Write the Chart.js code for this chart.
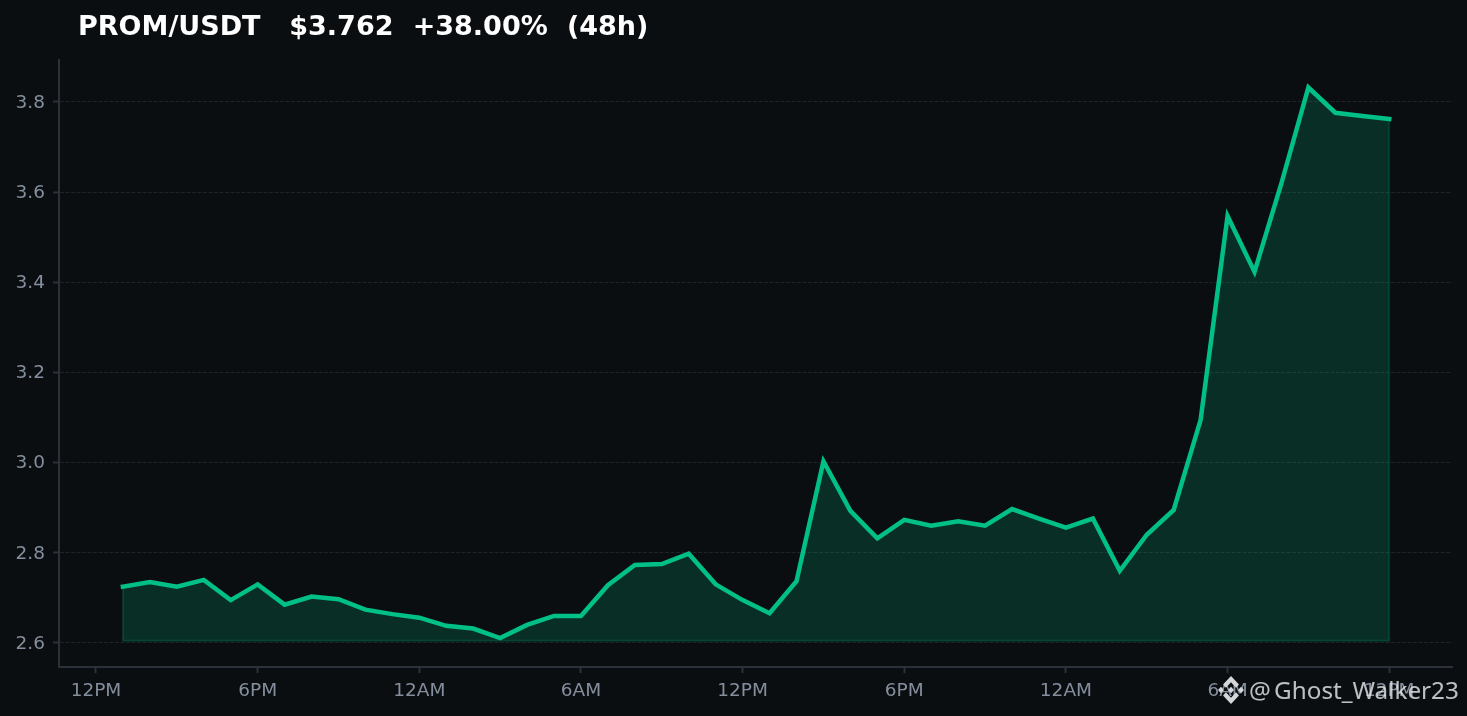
<!DOCTYPE html>
<html>
<head>
<meta charset="utf-8">
<script src="https://cdn.jsdelivr.net/npm/chart.js@4"></script>
<style>
html,body{margin:0;padding:0;background:#0b0e11;width:1467px;height:716px;overflow:hidden}
#wrap{position:relative;width:1467px;height:716px}
#title{position:absolute;left:78px;top:10px;font:bold 27px "DejaVu Sans";color:#fff;white-space:pre;line-height:32px;word-spacing:.2px}
#mark{position:absolute;left:1218px;top:676px;height:28px;display:flex;align-items:center;color:rgba(234,236,239,.8);font:24.25px "Noto Sans";white-space:pre}
#mark svg{width:26px;height:28px;margin-right:5px}
#mark span{position:relative;top:-1px;word-spacing:-3px}
canvas{display:block}
</style>
</head>
<body>
<div id="wrap">
<canvas id="c" width="1467" height="716"></canvas>
<div id="title">PROM/USDT   $3.762  +38.00%  (48h)</div>
<div id="mark"><svg viewBox="0 0 126.6 126.6" preserveAspectRatio="none"><g fill="#d4d6d9"><path d="M38.73 53.2L63.3 28.63l24.58 24.58 14.3-14.29L63.3 0 24.43 38.9z"/><path d="M0 63.31l14.3-14.29 14.3 14.3-14.3 14.29z"/><path d="M38.73 73.41L63.3 97.99l24.58-24.58 14.3 14.29L63.3 126.6 24.43 87.73z"/><path d="M97.99 63.31l14.3-14.3 14.3 14.3-14.3 14.3z"/><path d="M77.83 63.3L63.3 48.78 48.83 63.27l14.47 14.5z"/></g></svg><span>@ Ghost_Walker23</span></div>
</div>
<script>
const hours = [1,2,3,4,5,6,7,8,9,10,11,12,13,14,15,16,17,18,19,20,21,22,23,24,25,26,27,28,29,30,31,32,33,34,35,36,37,38,39,40,41,42,43,44,45,46,47,48];
const prices = [2.725,2.735,2.725,2.74,2.695,2.73,2.685,2.703,2.697,2.674,2.664,2.656,2.638,2.632,2.611,2.64,2.66,2.66,2.728,2.773,2.775,2.798,2.73,2.695,2.666,2.737,3.003,2.893,2.832,2.873,2.86,2.87,2.86,2.897,2.876,2.856,2.876,2.76,2.84,2.895,3.095,3.547,3.423,3.62,3.832,3.776,3.769,3.762];
const xTickHours = [0,6,12,18,24,30,36,42,48];
const xTickLabels = ['12PM','6PM','12AM','6AM','12PM','6PM','12AM','6AM','12PM'];
const yTicks = [2.6,2.8,3.0,3.2,3.4,3.6,3.8];
const baseValue = 2.605;

const GREEN = '#00c087', BG = '#0b0e11', SPINE = '#2b3139', GRID = '#1e2329', TICK = '#848e9c';
const points = hours.map((h,i)=>({x:h,y:prices[i]}));
const first = points[0], last = points[points.length-1];
const edge = [first,{x:first.x,y:baseValue},{x:last.x,y:baseValue},last];

Chart.defaults.font.family = '"DejaVu Sans"';
new Chart(document.getElementById('c'),{
  type:'line',
  data:{datasets:[
    {data:edge,borderColor:'rgba(0,192,135,.2)',borderWidth:2,pointRadius:0,fill:false,tension:0,order:2},
    {data:points,borderColor:GREEN,borderWidth:4.5,pointRadius:0,tension:0,borderJoinStyle:'miter',borderCapStyle:'square',
     fill:{target:{value:baseValue}},backgroundColor:'rgba(0,192,135,.18)',order:1}
  ]},
  plugins:[{id:'bg',beforeDraw(ch){const c=ch.ctx;c.save();c.fillStyle=BG;c.fillRect(0,0,ch.width,ch.height);c.restore();}}],
  options:{
    responsive:false,animation:false,devicePixelRatio:1,
    layout:{padding:{top:60,right:15,left:0,bottom:0}},
    plugins:{legend:{display:false},tooltip:{enabled:false}},
    scales:{
      x:{type:'linear',min:-1.373,max:50.33,
        afterFit(s){s.height=49;},
        afterBuildTicks(s){s.ticks=xTickHours.map(v=>({value:v}));},
        grid:{drawOnChartArea:false,drawTicks:true,tickLength:6,tickColor:SPINE,tickWidth:2},
        border:{color:SPINE,width:2},
        ticks:{color:TICK,font:{size:18.5},padding:7,maxRotation:0,autoSkip:false,
          callback(v){const i=xTickHours.indexOf(v);return i>=0?xTickLabels[i]:'';}}
      },
      y:{min:2.5467,max:3.893,
        afterFit(s){s.width=59;},
        afterBuildTicks(s){s.ticks=yTicks.map(v=>({value:v}));},
        grid:{color:GRID,lineWidth:1,tickLength:6,tickColor:SPINE,tickWidth:2,tickBorderDash:[]},
        border:{color:SPINE,width:2,dash:[4,1.5]},
        ticks:{color:TICK,font:{size:18.5},padding:8,labelOffset:1,callback(v){return Number(v).toFixed(1);}}
      }
    }
  }
});
</script>
</body>
</html>
